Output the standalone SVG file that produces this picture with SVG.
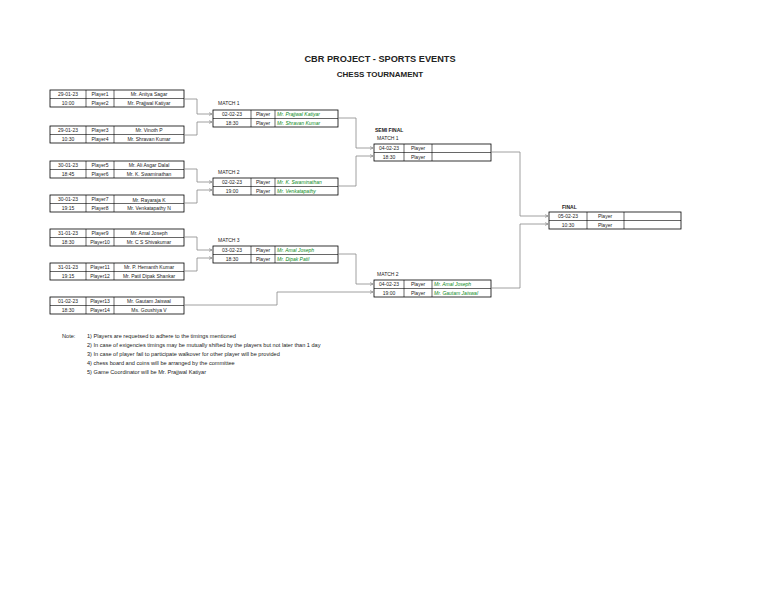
<svg xmlns="http://www.w3.org/2000/svg" width="768" height="594" viewBox="0 0 768 594">
<style>
text{font-family:"Liberation Sans",Arial,sans-serif;font-size:5px;fill:#222}
.c{text-anchor:middle}
.b{font-weight:bold}
.g{fill:#0a8a1a;font-style:italic;font-size:5px}
.n{font-size:5.6px}
rect{fill:#fff;stroke:#000;stroke-width:0.8}
line.d{stroke:#000;stroke-width:0.6}
.cn path{fill:none;stroke:#888;stroke-width:0.8}
</style>
<defs><marker id="a" markerWidth="5" markerHeight="5" refX="4" refY="2.5" orient="auto"><path d="M0,0.5 L4,2.5 L0,4.5" fill="none" stroke="#666" stroke-width="0.6"/></marker></defs>
<rect x="0" y="0" width="768" height="594" style="stroke:none"/>
<text x="380" y="62" class="c b" style="font-size:9.2px">CBR PROJECT - SPORTS EVENTS</text>
<text x="380" y="77" class="c b" style="font-size:8px">CHESS TOURNAMENT</text>

<g id="r1">
<g id="g1"><rect x="50" y="90" width="134" height="17"/><line class="d" x1="50" y1="98.5" x2="184" y2="98.5"/><line class="d" x1="86" y1="90" x2="86" y2="107"/><line class="d" x1="114" y1="90" x2="114" y2="107"/>
<text x="68" y="96" class="c">29-01-23</text><text x="68" y="105" class="c">10:00</text><text x="100" y="96" class="c">Player1</text><text x="100" y="105" class="c">Player2</text><text x="149" y="96" class="c">Mr. Anitya Sagar</text><text x="149" y="105" class="c">Mr. Prajjwal Katiyar</text></g>
<g id="g2"><rect x="50" y="126" width="134" height="17"/><line class="d" x1="50" y1="134.5" x2="184" y2="134.5"/><line class="d" x1="86" y1="126" x2="86" y2="143"/><line class="d" x1="114" y1="126" x2="114" y2="143"/>
<text x="68" y="132" class="c">29-01-23</text><text x="68" y="141" class="c">10:30</text><text x="100" y="132" class="c">Player3</text><text x="100" y="141" class="c">Player4</text><text x="149" y="132" class="c">Mr. Vinoth P</text><text x="149" y="141" class="c">Mr. Shravan Kumar</text></g>
<g id="g3"><rect x="50" y="161" width="134" height="17"/><line class="d" x1="50" y1="169.5" x2="184" y2="169.5"/><line class="d" x1="86" y1="161" x2="86" y2="178"/><line class="d" x1="114" y1="161" x2="114" y2="178"/>
<text x="68" y="167" class="c">30-01-23</text><text x="68" y="176" class="c">18:45</text><text x="100" y="167" class="c">Player5</text><text x="100" y="176" class="c">Player6</text><text x="149" y="167" class="c">Mr. Ali Asgar Dalal</text><text x="149" y="176" class="c">Mr. K. Swaminathan</text></g>
<g id="g4"><rect x="50" y="195" width="134" height="17"/><line class="d" x1="50" y1="203.5" x2="184" y2="203.5"/><line class="d" x1="86" y1="195" x2="86" y2="212"/><line class="d" x1="114" y1="195" x2="114" y2="212"/>
<text x="68" y="201" class="c">30-01-23</text><text x="68" y="210" class="c">19:15</text><text x="100" y="201" class="c">Player7</text><text x="100" y="210" class="c">Player8</text><text x="149" y="202" class="c">Mr. Rayaraja K</text><text x="149" y="210" class="c">Mr. Venkatapathy N</text></g>
<g id="g5"><rect x="50" y="229" width="134" height="17"/><line class="d" x1="50" y1="237.5" x2="184" y2="237.5"/><line class="d" x1="86" y1="229" x2="86" y2="246"/><line class="d" x1="114" y1="229" x2="114" y2="246"/>
<text x="68" y="235" class="c">31-01-23</text><text x="68" y="244" class="c">18:30</text><text x="100" y="235" class="c">Player9</text><text x="100" y="244" class="c">Player10</text><text x="149" y="235" class="c">Mr. Amal Joseph</text><text x="149" y="244" class="c">Mr. C S Shivakumar</text></g>
<g id="g6"><rect x="50" y="263" width="134" height="17"/><line class="d" x1="50" y1="271.5" x2="184" y2="271.5"/><line class="d" x1="86" y1="263" x2="86" y2="280"/><line class="d" x1="114" y1="263" x2="114" y2="280"/>
<text x="68" y="269" class="c">31-01-23</text><text x="68" y="278" class="c">19:15</text><text x="100" y="269" class="c">Player11</text><text x="100" y="278" class="c">Player12</text><text x="149" y="269" class="c">Mr. P. Hemanth Kumar</text><text x="149" y="278" class="c">Mr. Patil Dipak Shankar</text></g>
<g id="g7"><rect x="50" y="297" width="134" height="17"/><line class="d" x1="50" y1="305.5" x2="184" y2="305.5"/><line class="d" x1="86" y1="297" x2="86" y2="314"/><line class="d" x1="114" y1="297" x2="114" y2="314"/>
<text x="68" y="303" class="c">01-02-23</text><text x="68" y="312" class="c">18:30</text><text x="100" y="303" class="c">Player13</text><text x="100" y="312" class="c">Player14</text><text x="149" y="303" class="c">Mr. Gautam Jaiswal</text><text x="149" y="312" class="c">Ms. Goushiya V</text></g>
</g>

<g id="m1"><text x="218" y="105">MATCH 1</text><rect x="213" y="110" width="125" height="17"/><line class="d" x1="213" y1="118.5" x2="338" y2="118.5"/><line class="d" x1="251" y1="110" x2="251" y2="127"/><line class="d" x1="275" y1="110" x2="275" y2="127"/>
<text x="232" y="116" class="c">02-02-23</text><text x="232" y="125" class="c">18:30</text><text x="263" y="116" class="c">Player</text><text x="263" y="125" class="c">Player</text><text x="277" y="116" class="g">Mr. Prajjwal Katiyar</text><text x="277" y="125" class="g">Mr. Shravan Kumar</text></g>
<g id="m2"><text x="218" y="174">MATCH 2</text><rect x="213" y="178" width="125" height="17"/><line class="d" x1="213" y1="186.5" x2="338" y2="186.5"/><line class="d" x1="251" y1="178" x2="251" y2="195"/><line class="d" x1="275" y1="178" x2="275" y2="195"/>
<text x="232" y="184" class="c">02-02-23</text><text x="232" y="193" class="c">19:00</text><text x="263" y="184" class="c">Player</text><text x="263" y="193" class="c">Player</text><text x="277" y="184" class="g">Mr. K. Swaminathan</text><text x="277" y="193" class="g">Mr. Venkatapathy</text></g>
<g id="m3"><text x="218" y="242">MATCH 3</text><rect x="213" y="246" width="125" height="17"/><line class="d" x1="213" y1="254.5" x2="338" y2="254.5"/><line class="d" x1="251" y1="246" x2="251" y2="263"/><line class="d" x1="275" y1="246" x2="275" y2="263"/>
<text x="232" y="252" class="c">03-02-23</text><text x="232" y="261" class="c">18:30</text><text x="263" y="252" class="c">Player</text><text x="263" y="261" class="c">Player</text><text x="277" y="252" class="g">Mr. Amal Joseph</text><text x="277" y="261" class="g">Mr. Dipak Patil</text></g>

<g id="s1"><text x="375" y="132" class="b">SEMI FINAL</text><text x="377" y="140">MATCH 1</text><rect x="374" y="144" width="117" height="17"/><line class="d" x1="374" y1="152.5" x2="491" y2="152.5"/><line class="d" x1="404" y1="144" x2="404" y2="161"/><line class="d" x1="432" y1="144" x2="432" y2="161"/>
<text x="389" y="150" class="c">04-02-23</text><text x="389" y="159" class="c">18:30</text><text x="418" y="150" class="c">Player</text><text x="418" y="159" class="c">Player</text></g>
<g id="s2"><text x="377" y="276">MATCH 2</text><rect x="374" y="280" width="117" height="17"/><line class="d" x1="374" y1="288.5" x2="491" y2="288.5"/><line class="d" x1="404" y1="280" x2="404" y2="297"/><line class="d" x1="432" y1="280" x2="432" y2="297"/>
<text x="389" y="286" class="c">04-02-23</text><text x="389" y="295" class="c">19:00</text><text x="418" y="286" class="c">Player</text><text x="418" y="295" class="c">Player</text><text x="434" y="286" class="g">Mr. Amal Joseph</text><text x="434" y="295" class="g">Mr. Gautam Jaiswal</text></g>
<g id="f"><text x="562" y="209" class="b">FINAL</text><rect x="549" y="212" width="132" height="17"/><line class="d" x1="549" y1="220.5" x2="681" y2="220.5"/><line class="d" x1="587" y1="212" x2="587" y2="229"/><line class="d" x1="624" y1="212" x2="624" y2="229"/>
<text x="568" y="218" class="c">05-02-23</text><text x="568" y="227" class="c">10:30</text><text x="605" y="218" class="c">Player</text><text x="605" y="227" class="c">Player</text></g>

<g class="cn" id="connectors">
<path d="M184,99 H197 V114 H212" marker-end="url(#a)"/>
<path d="M184,135 H197 V122 H212" marker-end="url(#a)"/>
<path d="M184,169 H197 V182 H212" marker-end="url(#a)"/>
<path d="M184,203 H197 V190 H212" marker-end="url(#a)"/>
<path d="M184,237 H197 V250 H212" marker-end="url(#a)"/>
<path d="M184,271 H197 V258 H212" marker-end="url(#a)"/>
<path d="M338,118 H356 V148 H373" marker-end="url(#a)"/>
<path d="M338,186 H356 V156 H373" marker-end="url(#a)"/>
<path d="M338,254 H356 V284 H373" marker-end="url(#a)"/>
<path d="M184,305 H277 V292 H373" marker-end="url(#a)"/>
<path d="M491,152 H520 V216 H548" marker-end="url(#a)"/>
<path d="M491,288 H520 V224 H548" marker-end="url(#a)"/>
</g>

<g id="notes">
<text x="62" y="338" class="n">Note:</text>
<text x="87" y="338" class="n">1) Players are requetsed to adhere to the timings mentioned</text>
<text x="87" y="347" class="n">2) In case of exigencies timings may be mutually shifted by the players but not later than 1 day</text>
<text x="87" y="356" class="n">3) In case of player fail to participate walkover for other player will be provided</text>
<text x="87" y="365" class="n">4) chess board and coins will be arranged by the committee</text>
<text x="87" y="374" class="n">5) Game Coordinator will be Mr. Prajjwal Katiyar</text>
</g>
</svg>
